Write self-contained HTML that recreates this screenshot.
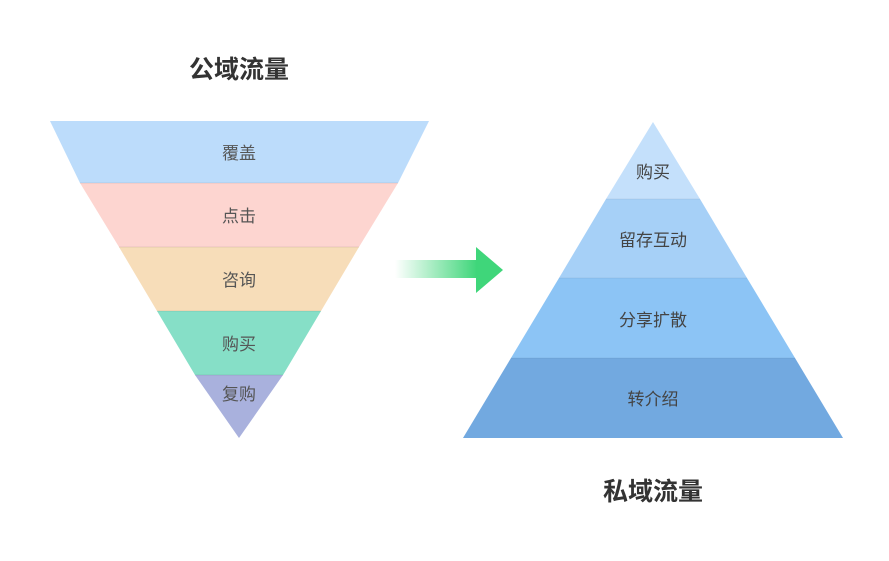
<!DOCTYPE html>
<html><head><meta charset="utf-8"><style>
body{margin:0;background:#fff;width:889px;height:556px;overflow:hidden}
svg text{font-family:"Liberation Sans","Noto Sans CJK SC",sans-serif}
</style></head><body>
<svg width="889" height="556" viewBox="0 0 889 556">
<defs>
<linearGradient id="g" x1="0" x2="1" y1="0" y2="0">
<stop offset="0" stop-color="#3fd67a" stop-opacity="0"/>
<stop offset="1" stop-color="#3fd67a"/>
</linearGradient>
</defs>
<text x="239" y="78" font-size="25" font-weight="bold" fill="#333" text-anchor="middle">公域流量</text>
<text x="653" y="500" font-size="25" font-weight="bold" fill="#333" text-anchor="middle">私域流量</text>
<polygon points="50,121 429,121 398,183 80,183" fill="#bcdcfb"/>
<polygon points="80,183 398,183 359,247 119,247" fill="#fdd5d0"/>
<polygon points="119,247 359,247 321,311 157,311" fill="#f7ddb9"/>
<polygon points="157,311 321,311 283,375 195,375" fill="#86dfc7"/>
<polygon points="195,375 283,375 239,438" fill="#a9b1dd"/>
<g stroke="rgba(0,0,0,0.08)" stroke-width="1">
<line x1="80" y1="183" x2="398" y2="183"/><line x1="119" y1="247" x2="359" y2="247"/>
<line x1="157" y1="311" x2="321" y2="311"/><line x1="195" y1="375" x2="283" y2="375"/>
</g>
<g font-size="17" fill="#555" text-anchor="middle">
<text x="239" y="159">覆盖</text>
<text x="239" y="222">点击</text>
<text x="239" y="286">咨询</text>
<text x="239" y="350">购买</text>
<text x="239" y="400">复购</text>
</g>
<rect x="395" y="260" width="82" height="18" fill="url(#g)"/>
<polygon points="476,247 503,270 476,293" fill="#3fd67a"/>
<polygon points="653,122 700,199 606,199" fill="#c4e0fb"/>
<polygon points="606,199 700,199 747,278 559,278" fill="#a6d0f7"/>
<polygon points="559,278 747,278 795,358 511,358" fill="#8cc4f5"/>
<polygon points="511,358 795,358 843,438 463,438" fill="#72a9e0"/>
<g stroke="rgba(0,0,0,0.06)" stroke-width="1">
<line x1="606" y1="199" x2="700" y2="199"/><line x1="559" y1="278" x2="747" y2="278"/><line x1="511" y1="358" x2="795" y2="358"/>
</g>
<g font-size="17" fill="#444" text-anchor="middle">
<text x="653" y="178">购买</text>
<text x="653" y="246">留存互动</text>
<text x="653" y="326">分享扩散</text>
<text x="653" y="405">转介绍</text>
</g>
</svg>
</body></html>
